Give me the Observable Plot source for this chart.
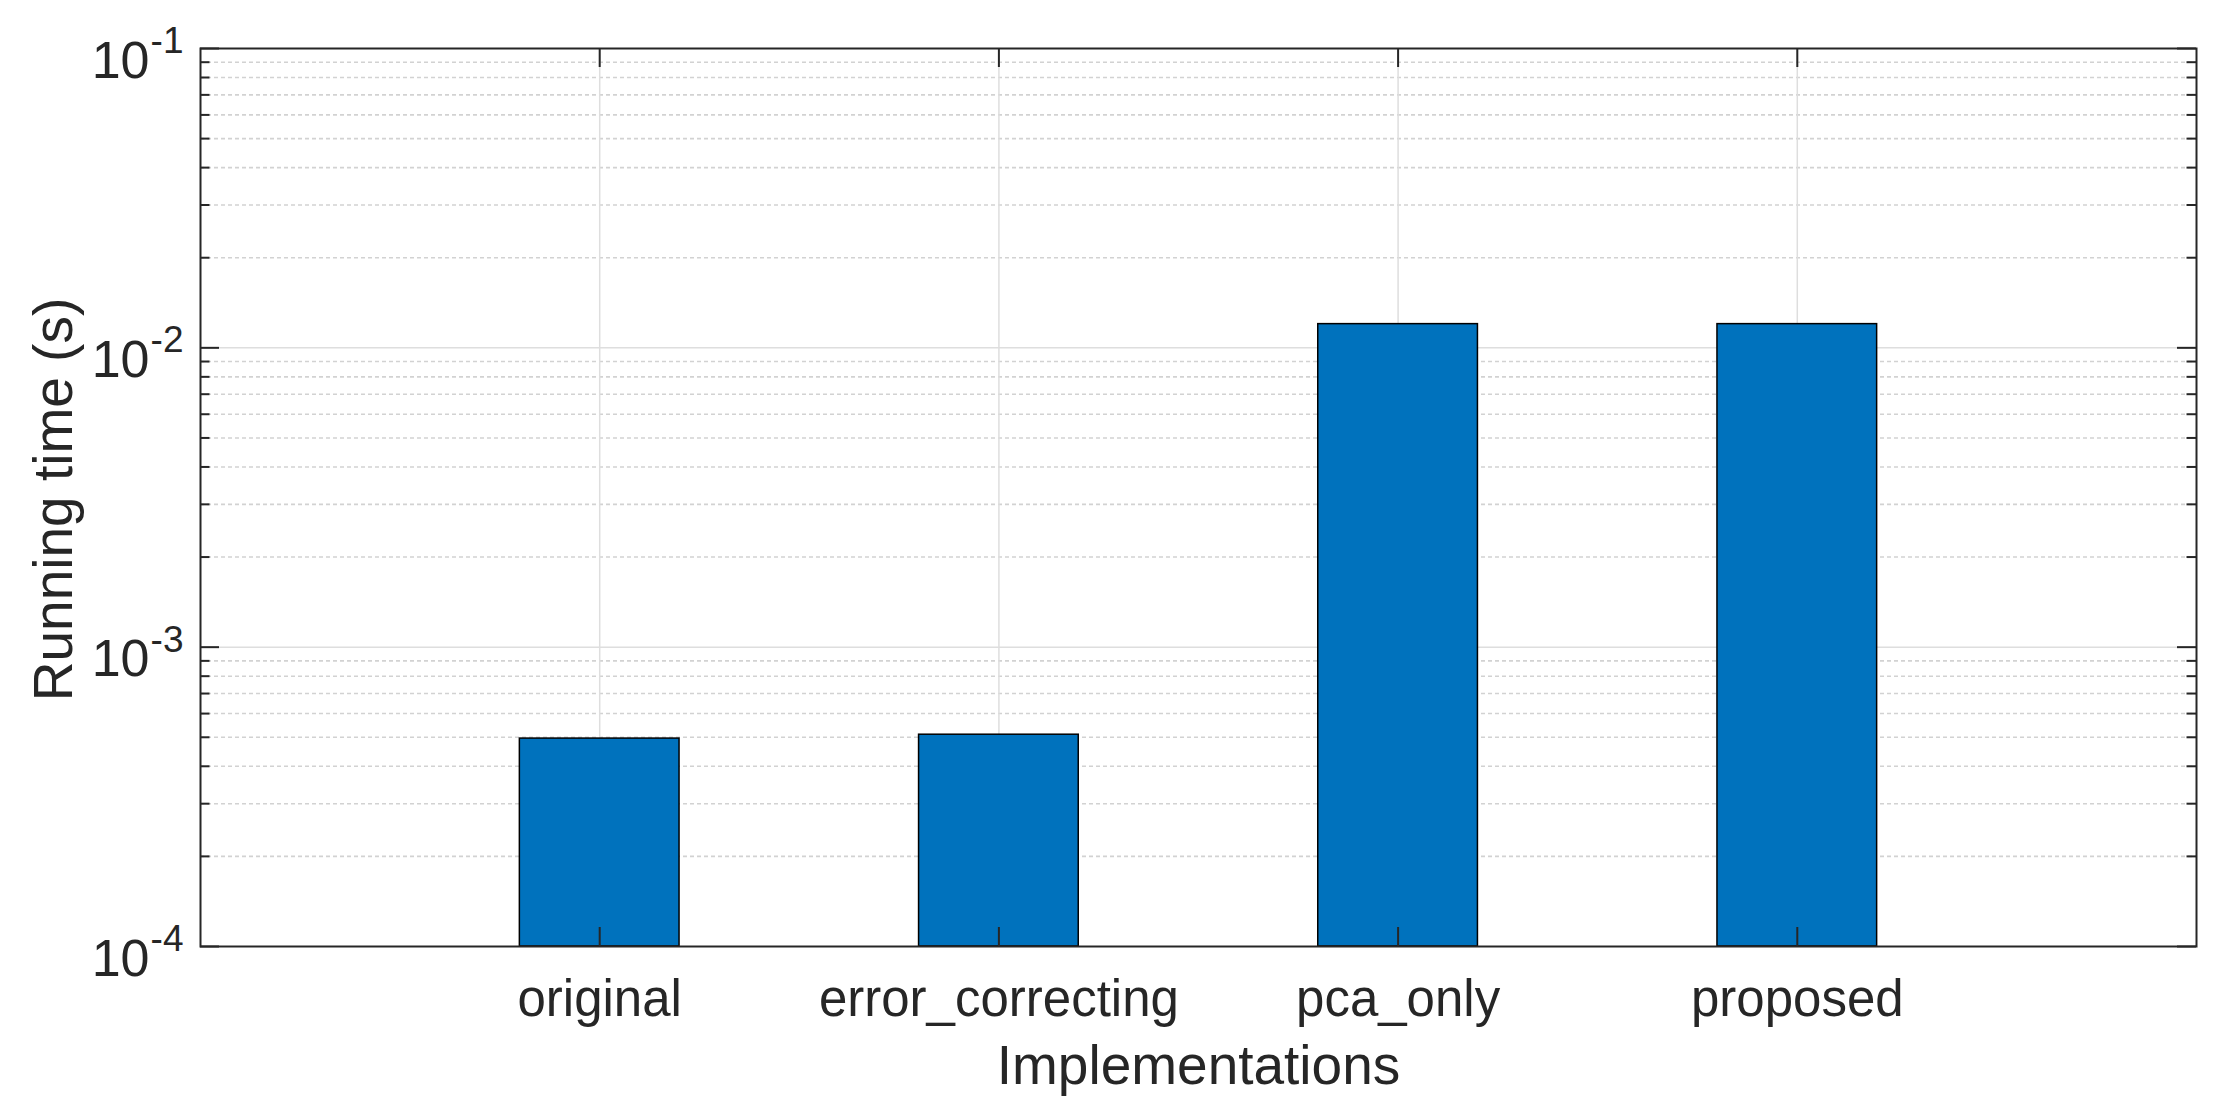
<!DOCTYPE html>
<html>
<head>
<meta charset="utf-8">
<script src="https://cdn.jsdelivr.net/npm/d3@7"></script>
<script src="https://cdn.jsdelivr.net/npm/@observablehq/plot@0.6"></script>
<style>
  html, body { margin: 0; padding: 0; background: #ffffff; }
  #chart { width: 2222px; height: 1115px; }
</style>
</head>
<body>
<div id="chart"></div>
<script>
// ---- data ----
const categories = ["original", "error_correcting", "pca_only", "proposed"];
const runningTimes = [4.95e-4, 5.1e-4, 0.0120, 0.0120];
const yDomain = [1e-4, 1e-1];
const majorTicks = [1e-4, 1e-3, 1e-2, 1e-1];
const tickExponents = ["-4", "-3", "-2", "-1"];
const minorTicks = [1e-4, 1e-3, 1e-2].flatMap(d => [2, 3, 4, 5, 6, 7, 8, 9].map(k => k * d));
const xLabel = "Implementations";
const yLabel = "Running time (s)";

const data = categories.map((name, i) => ({name, value: runningTimes[i]}));
const majorData = majorTicks.map((v, i) => ({v, exp: tickExponents[i]}));

// ---- layout ----
const W = 2222, H = 1115;
const mL = 200, mR = 26, mT = 48, mB = 169;
const plotW = W - mL - mR, plotH = H - mT - mB;
const ink = "#262626";
const font = "'Liberation Sans', Arial, Helvetica, sans-serif";

const chart = Plot.plot({
  width: W,
  height: H,
  marginLeft: mL,
  marginRight: mR,
  marginTop: mT,
  marginBottom: mB,
  style: {fontFamily: font, background: "#ffffff", color: ink},
  x: {type: "band", domain: categories, paddingInner: 0.6, paddingOuter: 0.8, round: false, axis: null},
  y: {type: "log", domain: yDomain, axis: null},
  marks: [
    // minor dotted grid
    Plot.ruleY(minorTicks, {y: d => d, stroke: "#d2d2d2", strokeWidth: 1.6, strokeDasharray: "4,3"}),
    // major grid
    Plot.ruleY(majorTicks.slice(1, -1), {y: d => d, stroke: "#dedede", strokeWidth: 1.5}),
    Plot.ruleX(categories, {x: d => d, stroke: "#dedede", strokeWidth: 1.5}),
    // bars
    Plot.barY(data, {x: "name", y1: () => yDomain[0], y2: "value", fill: "#0072BD", stroke: "#000000", strokeWidth: 1.5}),
    // inner ticks: left/right (minor & major)
    Plot.tickY(minorTicks, {y: d => d, stroke: ink, strokeWidth: 2, insetRight: plotW - 9.5}),
    Plot.tickY(minorTicks, {y: d => d, stroke: ink, strokeWidth: 2, insetLeft: plotW - 9.5}),
    Plot.tickY(majorTicks, {y: d => d, stroke: ink, strokeWidth: 2, insetRight: plotW - 19}),
    Plot.tickY(majorTicks, {y: d => d, stroke: ink, strokeWidth: 2, insetLeft: plotW - 19}),
    // inner ticks: bottom/top
    Plot.tickX(categories, {x: d => d, stroke: ink, strokeWidth: 2, insetTop: plotH - 19}),
    Plot.tickX(categories, {x: d => d, stroke: ink, strokeWidth: 2, insetBottom: plotH - 19}),
    // frame
    Plot.frame({stroke: ink, strokeWidth: 2}),
    // y tick labels: 10^exp
    Plot.text(majorData, {y: "v", text: () => "10", frameAnchor: "left", textAnchor: "end", lineAnchor: "bottom",
      dx: -51, dy: 29, fontSize: 52, fill: ink}),
    Plot.text(majorData, {y: "v", text: "exp", frameAnchor: "left", textAnchor: "end", lineAnchor: "bottom",
      dx: -17, dy: 4.5, fontSize: 37, fill: ink}),
    // x tick labels
    Plot.text(categories, {x: d => d, text: d => d, frameAnchor: "bottom", lineAnchor: "bottom",
      dy: 69, fontSize: 51, fill: ink}),
    // axis labels
    Plot.text([xLabel], {text: d => d, frameAnchor: "bottom", textAnchor: "middle", lineAnchor: "bottom", dy: 137, fontSize: 55, fill: ink}),
    Plot.text([yLabel], {text: d => d, frameAnchor: "left", textAnchor: "middle", lineAnchor: "bottom", rotate: -90, dx: -128.5, dy: 2, fontSize: 55, fill: ink})
  ]
});

document.getElementById("chart").appendChild(chart);
</script>
</body>
</html>
